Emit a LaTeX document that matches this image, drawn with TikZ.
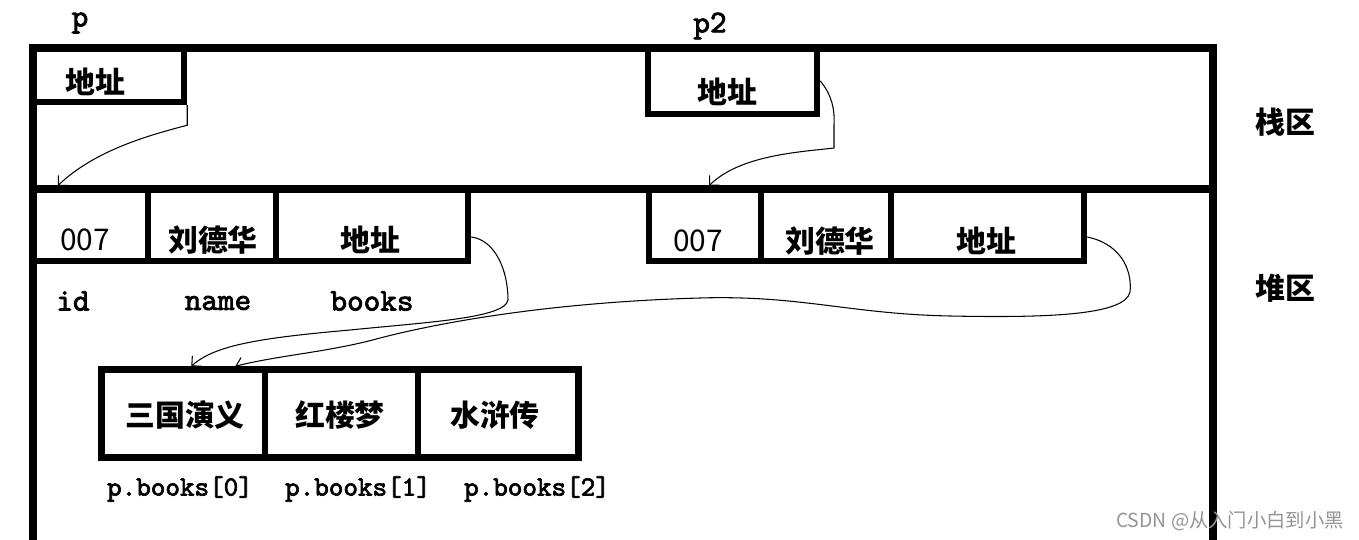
\documentclass[tikz,border=0pt]{standalone}
\usepackage{fontspec}
\newfontfamily\cjk{Noto Sans CJK SC}
\newfontfamily\codefont{lmmono10-regular.otf}[FakeBold=2.5]
\usetikzlibrary{arrows.meta}
\tikzset{
  wall/.style={line width=0.16cm},
  cell/.style={draw, line width=0.13cm, inner sep=0pt},
  cjktext/.style={inner sep=0pt, font=\cjk\bfseries\fontsize{17}{17}\selectfont},
  numtext/.style={inner sep=0pt, font=\cjk\fontsize{17}{17}\selectfont},
  tag/.style={inner sep=0pt, font=\codefont\fontsize{18}{18}\selectfont},
  subtag/.style={inner sep=0pt, font=\codefont\fontsize{15.8}{16}\selectfont},
  link/.style={line width=0.6pt, -{Straight Barb[length=4pt,width=8pt]}},
}
\begin{document}
\begin{tikzpicture}[x=0.02cm, y=-0.02cm]
\useasboundingbox (0,0) rectangle (1359,540);
\draw[wall] (33,540) -- (33,48) -- (1213,48) -- (1213,540);
\draw[wall] (33,189) -- (1213,189);
\path node[cell, minimum width=3.02cm, minimum height=1.08cm] (paddr) at (108.5,75) {}
node[cell, minimum width=3.38cm, minimum height=1.32cm] (ptwoaddr) at (732.5,81) {}
node[cell, minimum width=2.30cm, minimum height=1.44cm] (oneid) at (90.5,225) {}
node[cell, minimum width=2.56cm, minimum height=1.44cm] (onename) at (212,225) {}
node[cell, minimum width=3.84cm, minimum height=1.44cm] (onebooks) at (372,225) {}
node[cell, minimum width=2.24cm, minimum height=1.44cm] (twoid) at (705,225) {}
node[cell, minimum width=2.60cm, minimum height=1.44cm] (twoname) at (826,225) {}
node[cell, minimum width=3.86cm, minimum height=1.44cm] (twobooks) at (987.5,225) {}
node[cell, minimum width=3.27cm, minimum height=1.76cm] (bookzero) at (183.25,413.5) {}
node[cell, minimum width=3.06cm, minimum height=1.76cm] (bookone) at (341.5,413.5) {}
node[cell, minimum width=3.21cm, minimum height=1.76cm] (booktwo) at (498.25,413.5) {}
;
\path node[cjktext] (paddrtext) at (95,82) {地址}
node[cjktext] (ptwoaddrtext) at (727,92) {地址}
node[numtext] (oneidtext) at (85,240) {007}
node[cjktext] (onenametext) at (213,240) {刘德华}
node[cjktext] (onebookstext) at (370,240) {地址}
node[numtext] (twoidtext) at (698,241) {007}
node[cjktext] (twonametext) at (830,241) {刘德华}
node[cjktext] (twobookstext) at (986,241) {地址}
node[cjktext] (bookzerotext) at (185,415) {三国演义}
node[cjktext] (bookonetext) at (340,415) {红楼梦}
node[cjktext] (booktwotext) at (495,415) {水浒传}
node[cjktext] (stack) at (1285,122) {栈区}
node[cjktext] (heap) at (1285,288) {堆区}
node[tag] (plabel) at (80,23) {p}
node[tag] (ptwolabel) at (710,26) {p2}
node[tag] (idtag) at (73,301) {id}
node[tag] (nametag) at (218,303) {name}
node[tag] (bookstag) at (372,301) {books}
node[subtag] (zerotag) at (180,489) {p.books[0]}
node[subtag] (onetag) at (358,489) {p.books[1]}
node[subtag] (twotag) at (537,489) {p.books[2]}
node[inner sep=0pt, text=black!42, font=\cjk\fontsize{11}{11}\selectfont] (mark) at (1230,521) {CSDN @从入门小白到小黑}
;
\draw[link] (paddr.south east) -- ++(0,20) .. controls (150,135) and (95,150) .. ([xshift=0.56cm]oneid.north west);
\draw[link] (ptwoaddr.east) .. controls (832,95) and (835,110) .. (834,125) -- (834,148) .. controls (800,152) and (740,155) .. ([xshift=0.08cm]twoid.north);
\draw[link] ([yshift=-0.24cm]onebooks.east) .. controls (495,240) and (508,270) .. (508,300) .. controls (505,318) and (430,322) .. (350,330) .. controls (260,338) and (215,345) .. ([xshift=0.16cm]bookzero.north);
\draw[link] ([yshift=-0.24cm]twobooks.east) .. controls (1125,245) and (1132,275) .. (1130,292) .. controls (1125,315) and (1050,318) .. (950,316) .. controls (850,314) and (800,295) .. (700,298) .. controls (560,302) and (450,320) .. (380,338) .. controls (330,352) and (280,355) .. ([xshift=1.04cm]bookzero.north);
\end{tikzpicture}
\end{document}
